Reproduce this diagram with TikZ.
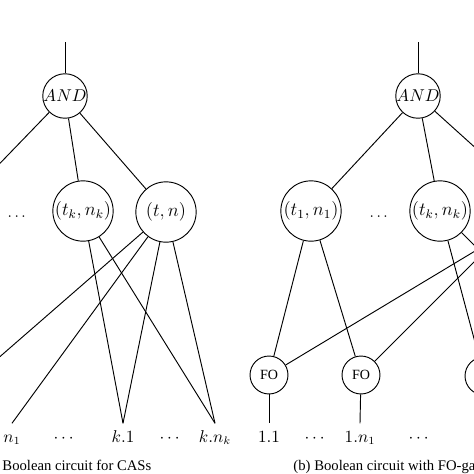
\documentclass[tikz,border=0pt]{standalone}
\usepackage{amsmath}
\usepackage{fontspec}
\setmainfont{Liberation Serif}
\usepackage{tikz}
\usetikzlibrary{arrows,arrows.meta}

\begin{document}
\begin{tikzpicture}[x=0.64pt,y=-0.64pt,line width=0.6pt,
	gate/.style={draw,circle,inner sep=0pt,minimum size=28.2pt,font=\fontsize{11.3}{13}\selectfont},
	pair/.style={draw,circle,inner sep=0pt,minimum size=38.6pt,font=\fontsize{11.5}{13}\selectfont},
	fanout/.style={draw,circle,inner sep=0pt,minimum size=24.3pt,font=\small},
	leaf/.style={anchor=base,inner sep=0pt,text height=7pt,text depth=2pt,outer sep=5pt,font=\fontsize{10.5}{12}\selectfont},
	caption/.style={anchor=base west,inner sep=0pt,font=\fontsize{9.4}{11}\selectfont}]
	\useasboundingbox (0,0) rectangle (474,474);
	\clip (0,0) rectangle (474,474);

	%LEFT CIRCUIT
	\coordinate (topL) at (65,42);
	\node[gate] (andL) at (65,96) {$AND$};
	\coordinate (t1L) at (-20,184);	%first pair, off the page
	\node (dotsL) at (18,217) {$\cdots$};
	\node[pair] (tkL) at (83,211) {$(t_k,n_k)$};
	\node[pair] (tnL) at (166,212) {$(t,n)$};
	\coordinate (l11L) at (-20,374);	%leaf 1.1, off the page
	%
	\node[leaf] (l1nL) at (12,442) {$n_1$};
	\node[leaf] (dotsL1) at (65,442) {$\cdots$};
	\node[leaf] (k1L) at (123,442) {$k.1$};
	\node[leaf] (dotsL2) at (171,442) {$\cdots$};
	\node[leaf] (knL) at (215,442) {$k.n_k$};
	%
	\draw (topL)--(andL);
	\draw (andL)--(t1L);
	\draw (andL)--(tkL);
	\draw (andL)--(tnL);
	\draw (tkL)--(k1L.north);
	\draw (tkL)--(knL.north);
	\draw (tnL)--(l11L);
	\draw (tnL)--(l1nL.north);
	\draw (tnL)--(k1L.north);
	\draw (tnL)--(knL.north);

	%RIGHT CIRCUIT
	\coordinate (topR) at (418,42);
	\node[gate] (andR) at (418,96) {$AND$};
	\node[pair] (t1R) at (311,211) {$(t_1,n_1)$};
	\node (dotsR) at (380,217) {$\cdots$};
	\node[pair] (tkR) at (440,211) {$(t_k,n_k)$};
	\coordinate (tnR) at (500,170);		%last pair, off the page
	\coordinate (tnR2) at (500,236);
	\coordinate (fnR) at (500,271);
	%
	\node[fanout] (fo1) at (269,375) {FO};
	\node[fanout] (fo2) at (361,375) {FO};
	\node[fanout] (fo3) at (484,376) {FO};
	%
	\node[leaf] (l11R) at (269,442) {$1.1$};
	\node[leaf] (dotsR1) at (316,442) {$\cdots$};
	\node[leaf] (l1nR) at (360,442) {$1.n_1$};
	\node[leaf] (dotsR2) at (420,442) {$\cdots$};
	%
	\draw (topR)--(andR);
	\draw (andR)--(t1R);
	\draw (andR)--(tkR);
	\draw (andR)--(tnR);
	\draw (t1R)--(fo1);
	\draw (t1R)--(fo2);
	\draw (tkR)--(fo3);
	\draw (tkR)--(fnR);
	\draw (fo1)--(tnR2);
	\draw (fo2)--(tnR2);
	\draw (fo1)--(l11R.north);
	\draw (fo2)--(l1nR.north);

	%CAPTIONS
	\node[caption] (capL) at (2,470) {Boolean circuit for CASs};
	\node[caption] (capR) at (293,470) {(b) Boolean circuit with FO-gates};
\end{tikzpicture}
\end{document}
